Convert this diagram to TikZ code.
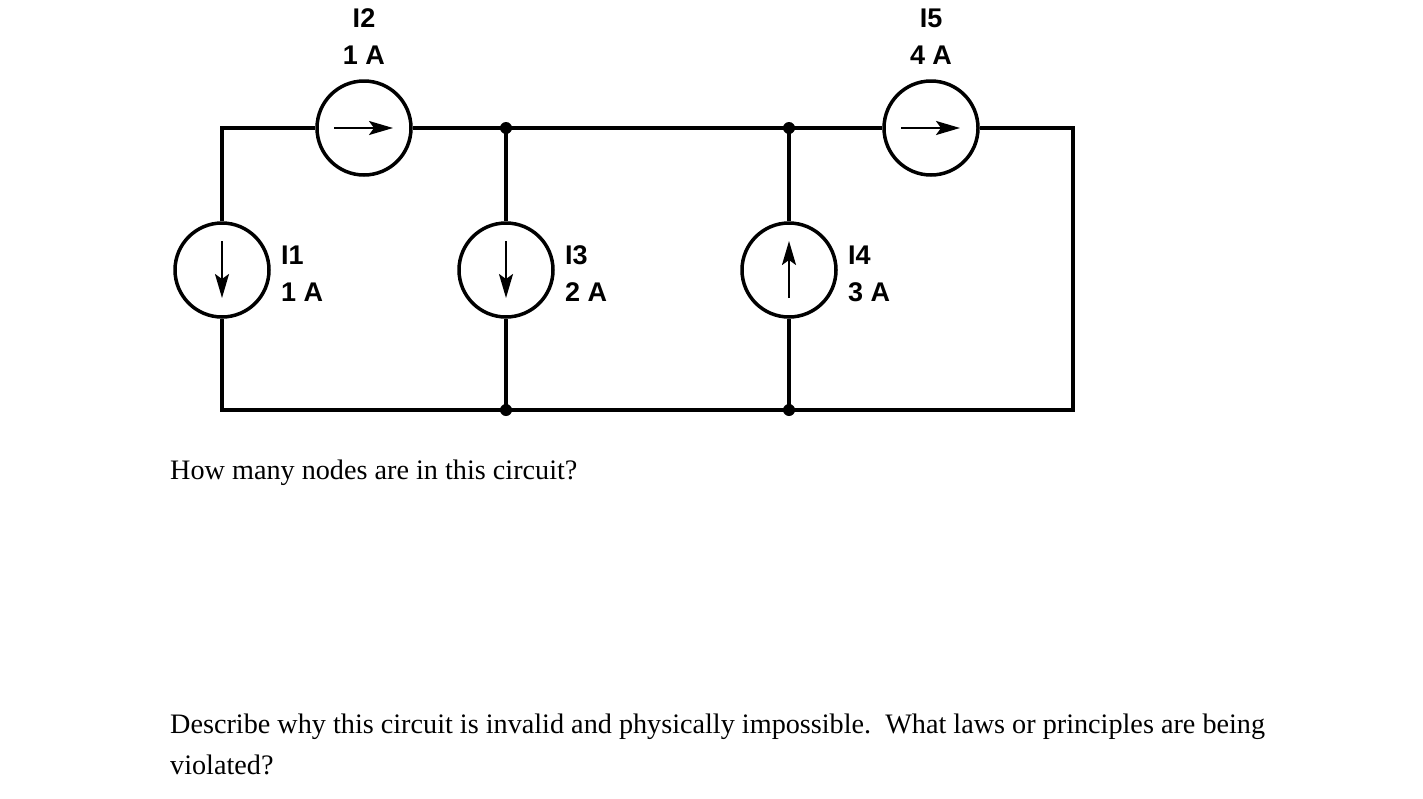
\documentclass[tikz,border=0pt]{standalone}
\usepackage{fontspec}
\setmainfont{Liberation Serif}
\newfontfamily\lab{Liberation Sans}
\usetikzlibrary{arrows.meta}
\begin{document}
\begin{tikzpicture}[x=1pt,y=-1pt,
  wire/.style={line width=3.5pt},
  src/.style={circle,draw,line width=3.5pt,minimum size=94pt,inner sep=0pt},
  arr/.style={line width=2.2pt,-{Stealth[length=24pt,width=14pt,inset=5pt]}},
  dot/.style={circle,fill,inner sep=0pt,minimum size=12pt},
  lbl/.style={font=\lab\bfseries\fontsize{27}{32}\selectfont,inner sep=0pt},
  q/.style={font=\fontsize{28.2}{34}\selectfont,inner sep=0pt,anchor=west}]
\useasboundingbox (0,0) rectangle (1423,798);
\coordinate (tl) at (222,128); \coordinate (tr) at (1073,128);
\coordinate (bl) at (222,410); \coordinate (br) at (1073,410);
\node[src] (s2) at (364,128) {};
\node[src] (s5) at (931,128) {};
\node[src] (s1) at (222,270) {};
\node[src] (s3) at (506,270) {};
\node[src] (s4) at (789,270) {};
\node[dot] (t3) at (506,128) {};
\node[dot] (t4) at (789,128) {};
\node[dot] (b3) at (506,410) {};
\node[dot] (b4) at (789,410) {};
\draw[wire] (s1.north) -- (tl) -- (s2.west);
\draw[wire] (s2.east) -- (t3.center) -- (t4.center) -- (s5.west);
\draw[wire] (s5.east) -- (tr) -- (br) -- (b4.center) -- (b3.center) -- (bl) -- (s1.south);
\draw[wire] (t3.center) -- (s3.north); \draw[wire] (s3.south) -- (b3.center);
\draw[wire] (t4.center) -- (s4.north); \draw[wire] (s4.south) -- (b4.center);
\draw[arr] (334,128) -- (393,128);
\draw[arr] (901,128) -- (960,128);
\draw[arr] (222,241) -- (222,298);
\draw[arr] (506,241) -- (506,298);
\draw[arr] (789,298) -- (789,241);
\node[lbl] (l2a) at (364,18) {I2}; \node[lbl] (l2b) at (364,55) {1 A};
\node[lbl] (l5a) at (931,18) {I5}; \node[lbl] (l5b) at (931,55) {4 A};
\node[lbl,anchor=west] (l1a) at (281,255) {I1}; \node[lbl,anchor=west] (l1b) at (281,292) {1 A};
\node[lbl,anchor=west] (l3a) at (565,255) {I3}; \node[lbl,anchor=west] (l3b) at (565,292) {2 A};
\node[lbl,anchor=west] (l4a) at (848,255) {I4}; \node[lbl,anchor=west] (l4b) at (848,292) {3 A};
\node[q] (q1) at (170,473) {How many nodes are in this circuit?};
\node[q] (q2) at (170,727) {Describe why this circuit is invalid and physically impossible.\ \ What laws or principles are being};
\node[q] (q3) at (170,765) {violated?};
\end{tikzpicture}
\end{document}
